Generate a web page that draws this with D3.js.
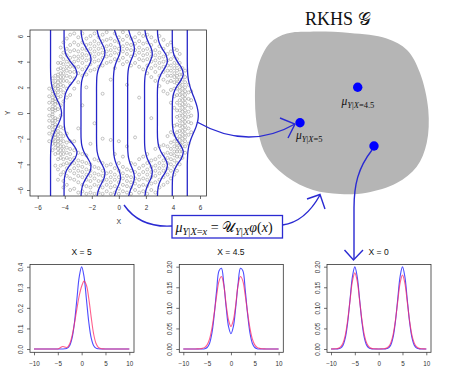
<!DOCTYPE html>
<html>
<head>
<meta charset="utf-8">
<script src="https://cdn.jsdelivr.net/npm/d3@7"></script>
<style>
  html, body { margin: 0; padding: 0; background: #fff; }
  #chart { width: 474px; height: 390px; }
</style>
</head>
<body>
<div id="chart"></div>
<script>
'use strict'

////////////////////////////////////
//////////// data //////////////////
////////////////////////////////////

// scatter: one column of Y values per X position
const scatterCols = [-5.15, -4.9, -4.7, -4.5, -4.3, -4.1, -3.85, -3.6, -3.3, -3.0, -2.7, -2.4, -2.1, -1.8, -1.5, -1.2, -0.9, -0.6, -0.3, 0,
  0.3, 0.6, 0.9, 1.2, 1.5, 1.8, 2.1, 2.4, 2.7, 3.0, 3.3, 3.6, 3.85, 4.1, 4.3, 4.5, 4.7, 4.9, 5.15, 5.35]
const scatterYs = [
  "-2.2 -1.6 -1.1 -0.6 -0.2 0.3 0.8 1.3 1.9",
  "-2.9 -2.4 -2.1 -1.8 -1.5 -1.3 -1.0 -0.8 -0.6 -0.3 -0.1 0.1 0.3 0.5 0.8 1.0 1.2 1.5 1.7 2.0 2.3 2.7",
  "-4.1 -3.2 -2.7 -2.4 -2.2 -1.9 -1.7 -1.4 -1.1 -0.9 -0.6 -0.4 0.2 0.4 0.7 0.9 1.1 1.4 1.6 1.9 2.2 2.5 2.9",
  "-5.2 -4.4 -3.6 -3.1 -2.8 -2.5 -2.2 -2.0 -1.7 -1.4 -1.0 -0.5 0.3 0.8 1.2 1.6 1.9 2.1 2.4 2.7 3.0 3.4 3.9",
  "-4.8 -4.1 -3.5 -3.2 -2.9 -2.6 -2.3 -2.0 -1.6 -1.1 -0.2 0.6 1.3 1.8 2.2 2.5 2.8 3.1 3.5 3.9 4.4 5.1",
  "-5.8 -5.3 -4.6 -4.0 -3.6 -3.2 -2.9 -2.6 -2.2 -1.8 -1.2 0.9 1.6 2.1 2.5 2.8 3.1 3.4 3.8 4.2 4.7 5.5",
  "-5.6 -4.9 -4.3 -3.9 -3.5 -3.1 -2.7 -2.3 -1.6 1.2 1.9 2.5 2.9 3.3 3.6 4.0 4.5 5.0 5.8",
  "-6.0 -5.1 -4.5 -4.0 -3.6 -3.2 -2.8 -2.2 1.4 2.3 2.8 3.2 3.6 3.9 4.3 4.8 5.3 6.1",
  "-5.9 -5.2 -4.7 -4.3 -3.9 -3.5 -2.9 -2.2 1.9 2.7 3.2 3.6 4.0 4.4 4.9 5.5 6.2",
  "-6.2 -5.4 -4.9 -4.5 -4.1 -3.7 -3.1 -1.2 2.4 3.1 3.6 4.1 4.4 4.8 5.3 5.9",
  "-6.1 -5.6 -5.0 -4.6 -4.2 -3.8 -3.2 0.6 2.9 3.4 3.9 4.3 4.6 5.0 5.5 6.2",
  "-6.3 -5.7 -5.2 -4.8 -4.4 -3.9 -3.3 2.0 3.0 3.6 4.1 4.5 4.9 5.3 5.8",
  "-6.2 -5.8 -5.3 -4.9 -4.5 -4.0 -2.4 3.3 3.8 4.2 4.6 5.0 5.4 6.0",
  "-6.3 -5.6 -5.1 -4.7 -4.2 -3.6 -0.8 3.4 4.0 4.4 4.8 5.2 5.6 6.2",
  "-6.2 -5.7 -5.3 -4.8 -4.3 -3.7 3.6 4.1 4.6 5.0 5.4 5.9",
  "-6.3 -5.8 -5.3 -4.9 -4.5 -3.9 -2.0 1.5 3.7 4.3 4.7 5.1 5.6 6.1",
  "-6.1 -5.6 -5.2 -4.7 -4.1 3.9 4.4 4.8 5.2 5.7 6.3",
  "-6.3 -5.8 -5.4 -5.0 -4.6 -4.0 -2.1 2.6 4.0 4.5 4.9 5.3 5.8",
  "-6.2 -5.7 -5.2 -4.8 -4.3 -3.2 3.5 4.2 4.7 5.1 5.6 6.2",
  "-6.3 -5.9 -5.4 -5.0 -4.5 -3.9 -2.2 4.1 4.6 5.0 5.5 5.9",
  "-6.1 -5.6 -5.1 -4.7 -4.2 -3.4 3.8 4.3 4.8 5.2 5.7 6.3",
  "-6.2 -5.7 -5.3 -4.9 -4.4 -2.6 2.2 4.0 4.6 5.0 5.4 6.0",
  "-6.3 -5.8 -5.4 -5.0 -4.5 -3.9 3.7 4.4 4.9 5.3 5.8",
  "-6.0 -5.5 -5.1 -4.6 -4.0 -1.9 3.9 4.5 4.9 5.4 5.9",
  "-6.2 -5.7 -5.2 -4.8 -4.3 -3.6 1.2 3.6 4.2 4.7 5.1 5.6 6.2",
  "-6.1 -5.6 -5.1 -4.6 -4.1 -3.4 3.4 4.1 4.5 4.9 5.4 6.0",
  "-6.3 -5.7 -5.2 -4.8 -4.4 -3.9 -3.2 3.1 3.7 4.2 4.6 5.0 5.5 6.1",
  "-6.0 -5.5 -5.0 -4.6 -4.2 -3.7 -0.4 2.8 3.5 4.0 4.4 4.8 5.3 5.9",
  "-6.2 -5.4 -4.9 -4.5 -4.1 -3.6 -2.8 2.5 3.2 3.7 4.1 4.5 4.9 5.6",
  "-5.8 -5.2 -4.7 -4.3 -3.9 -3.4 -2.6 2.1 2.9 3.5 3.9 4.3 4.7 5.2 6.0",
  "-5.6 -5.0 -4.5 -4.1 -3.7 -3.2 -2.5 1.7 2.6 3.2 3.6 4.0 4.4 5.0 5.7",
  "-5.4 -4.8 -4.3 -3.9 -3.5 -3.1 -2.6 -1.8 1.5 2.4 2.9 3.3 3.7 4.1 4.6 5.3",
  "-5.1 -4.5 -4.0 -3.6 -3.2 -2.8 -2.3 -1.5 0.8 1.8 2.5 2.9 3.3 3.7 4.2 4.8 5.5",
  "-4.8 -4.2 -3.7 -3.3 -3.0 -2.6 -2.2 -1.7 -1.0 0.4 1.3 1.9 2.4 2.8 3.1 3.5 3.9 4.4 5.0",
  "-4.5 -3.9 -3.4 -3.0 -2.7 -2.4 -2.0 -1.5 -0.9 -0.3 0.2 0.8 1.4 1.9 2.3 2.6 2.9 3.3 3.7 4.2 4.9",
  "-4.0 -3.4 -3.0 -2.7 -2.4 -2.1 -1.8 -1.4 -1.0 -0.6 -0.2 0.2 0.6 1.0 1.4 1.7 2.0 2.3 2.6 3.0 3.4 3.9 4.6",
  "-3.5 -3.0 -2.6 -2.3 -2.0 -1.7 -1.4 -1.1 -0.8 -0.5 -0.2 0.1 0.4 0.7 1.0 1.3 1.6 1.9 2.2 2.6 3.0 3.5",
  "-3.1 -2.6 -2.2 -1.9 -1.6 -1.3 -1.0 -0.7 -0.4 -0.1 0.2 0.5 0.8 1.1 1.4 1.7 2.0 2.4 2.8 3.3",
  "-2.4 -1.7 -1.2 -0.7 -0.3 0.1 0.6 1.1 1.6 2.2",
  "-1.5 -0.8 -0.2 0.4 1.0 1.7"
]

// conditional densities drawn inside the scatter, one baseline X each
const curveBase = [-5.05, -4.05, -2.8, -1.65, -0.4, 0.65, 1.9, 2.85, 3.95, 5.06]
const curveGrid = [-6.5, -6, -5.5, -5, -4.5, -4, -3.5, -3, -2.5, -2, -1.5, -1, -0.5, 0, 0.5, 1, 1.5, 2, 2.5, 3, 3.5, 4, 4.5, 5, 5.5, 6, 6.5]
const curveVals = [
  [0, 0, 0, 0, 0, 0, 0, .002, .008, .025, .06, .105, .15, .17, .15, .105, .06, .025, .008, .002, 0, 0, 0, 0, 0, 0, 0],
  [0, 0, .001, .008, .035, .097, .173, .198, .145, .068, .021, .004, .001, 0, .001, .004, .021, .068, .145, .198, .173, .097, .035, .008, .001, 0, 0],
  [.001, .009, .035, .088, .143, .15, .1, .043, .012, .002, 0, 0, 0, 0, 0, 0, 0, .002, .012, .043, .1, .15, .143, .088, .035, .009, .001],
  [.008, .03, .076, .121, .125, .082, .035, .009, .002, 0, 0, 0, 0, 0, 0, 0, 0, 0, .002, .009, .035, .082, .125, .121, .076, .03, .008],
  [.015, .045, .088, .11, .088, .045, .015, .003, 0, 0, 0, 0, 0, 0, 0, 0, 0, 0, 0, .003, .015, .045, .088, .11, .088, .045, .015],
  [.014, .043, .084, .105, .084, .043, .014, .003, 0, 0, 0, 0, 0, 0, 0, 0, 0, 0, 0, .003, .014, .043, .084, .105, .084, .043, .014],
  [.005, .022, .06, .106, .118, .085, .039, .012, .002, 0, 0, 0, 0, 0, 0, 0, 0, 0, .002, .012, .039, .085, .118, .106, .06, .022, .005],
  [.001, .006, .027, .075, .134, .154, .113, .053, .016, .003, 0, 0, 0, 0, 0, 0, 0, .003, .016, .053, .113, .154, .134, .075, .027, .006, .001],
  [0, 0, .001, .006, .028, .079, .144, .169, .127, .061, .019, .004, .0005, 0, .0005, .004, .019, .061, .127, .169, .144, .079, .028, .006, .001, 0, 0],
  [0, 0, 0, 0, 0, 0, .003, .01, .027, .058, .1, .14, .165, .168, .15, .118, .08, .045, .02, .007, .002, 0, 0, 0, 0, 0, 0]
]
const scatterTicks = [-6, -4, -2, 0, 2, 4, 6]

// bottom panels: true (blue) and estimated (red) densities
const panelTitles = ["X = 5", "X = 4.5", "X = 0"]
const panelYMax = [0.4, 0.2, 0.2]
const panelYTicks = [[0, 0.1, 0.2, 0.3, 0.4], [0, 0.05, 0.1, 0.15, 0.2], [0, 0.05, 0.1, 0.15, 0.2]]
const panelYLabels = [["0.0", "0.1", "0.2", "0.3", "0.4"], ["0.00", "0.05", "0.10", "0.15", "0.20"], ["0.00", "0.05", "0.10", "0.15", "0.20"]]
const panelXTicks = [-10, -5, 0, 5, 10]
const densX = [-10, -9.5, -9, -8.5, -8, -7.5, -7, -6.5, -6, -5.5, -5, -4.5, -4, -3.5, -3, -2.5, -2, -1.5, -1, -0.5, 0,
  0.5, 1, 1.5, 2, 2.5, 3, 3.5, 4, 4.5, 5, 5.5, 6, 6.5, 7, 7.5, 8, 8.5, 9, 9.5, 10]
const blueDens = [
  [0, 0, 0, 0, 0, 0, 0, 0, 0, 0, 0, 0, 0, .0009, .0044, .0175, .054, .13, .242, .352, .399, .352, .242, .13, .054, .0175, .0044, .0009, 0, 0, 0, 0, 0, 0, 0, 0, 0, 0, 0, 0, 0],
  [0, 0, 0, 0, 0, 0, 0, 0, .0001, .0008, .0037, .0135, .038, .084, .143, .19, .196, .159, .101, .054, .037, .054, .101, .159, .196, .19, .143, .084, .038, .0135, .0037, .0008, .0001, 0, 0, 0, 0, 0, 0, 0, 0],
  [0, 0, .0001, .0004, .0022, .0088, .027, .0648, .121, .176, .1995, .176, .121, .0648, .027, .0088, .0022, .0004, .0001, 0, 0, 0, .0001, .0004, .0022, .0088, .027, .0648, .121, .176, .1995, .176, .121, .0648, .027, .0088, .0022, .0004, .0001, 0, 0]
]
const redDens = [
  [0, 0, 0, 0, 0, 0, 0, 0, 0, 0, 0, .006, .012, .009, .008, .025, .065, .125, .195, .26, .305, .33, .31, .245, .155, .075, .028, .008, .002, .0005, 0, 0, 0, 0, 0, 0, 0, 0, 0, 0, 0],
  [0, 0, 0, 0, 0, 0, .0002, .0005, .0015, .004, .01, .024, .05, .088, .13, .165, .176, .155, .107, .07, .055, .07, .107, .155, .176, .165, .13, .088, .05, .024, .01, .004, .0015, .0005, .0002, 0, 0, 0, 0, 0, 0],
  [.0001, .0002, .0005, .0015, .005, .014, .034, .07, .118, .165, .185, .165, .118, .07, .034, .014, .005, .0015, .0005, .0002, .0001, .0002, .0005, .0015, .005, .0135, .033, .068, .115, .16, .18, .16, .115, .068, .033, .0135, .005, .0015, .0005, .0002, .0001]
]

////////////////////////////////////
//////////// svg setup /////////////
////////////////////////////////////

const svgWidth = 474
const svgHeight = 390
const sans = "'Liberation Sans', Arial, sans-serif"
const serif = "'Liberation Serif', 'DejaVu Serif', serif"
const axisCol = '#333'
const curveBlue = '#2626c8'
const arrowBlue = '#2a2ad2'

const svg = d3.select('#chart')
  .append('svg')
  .attr('width', svgWidth)
  .attr('height', svgHeight)
  .attr('viewBox', `0 0 ${svgWidth} ${svgHeight}`)

////////////////////////////////////
//////////// scatter panel /////////
////////////////////////////////////

const box = { left: 30, right: 206.5, top: 30, bottom: 196 }
const sx = d3.scaleLinear().domain([-6, 6]).range([37.7, 200])
const sy = d3.scaleLinear().domain([-6, 6]).range([190, 36])
const bulge = d3.scaleLinear().domain([0, 0.2]).range([0, 13])

svg.append('clipPath').attr('id', 'scatterClip')
  .append('rect')
  .attr('x', box.left).attr('y', box.top)
  .attr('width', box.right - box.left).attr('height', box.bottom - box.top)

const points = scatterCols.flatMap((x, i) => scatterYs[i].split(' ').map(v => ({ x: x, y: +v })))

svg.append('g')
  .attr('clip-path', 'url(#scatterClip)')
  .selectAll('circle')
  .data(points)
  .join('circle')
  .attr('cx', d => sx(d.x))
  .attr('cy', d => sy(d.y))
  .attr('r', 1.5)
  .attr('fill', 'none')
  .attr('stroke', '#9c9c9c')
  .attr('stroke-width', 0.6)

const curveLine = d3.line().curve(d3.curveCatmullRom)

svg.append('g')
  .attr('clip-path', 'url(#scatterClip)')
  .selectAll('path')
  .data(curveVals)
  .join('path')
  .attr('d', (vals, k) => curveLine(vals.map((v, i) => [sx(curveBase[k]) + bulge(v), sy(curveGrid[i])])))
  .attr('fill', 'none')
  .attr('stroke', curveBlue)
  .attr('stroke-width', 1.3)

svg.append('rect')
  .attr('x', box.left).attr('y', box.top)
  .attr('width', box.right - box.left).attr('height', box.bottom - box.top)
  .attr('fill', 'none')
  .attr('stroke', axisCol)
  .attr('stroke-width', 0.8)

// axes
const xAxis = svg.append('g')
  .attr('transform', `translate(0,${box.bottom})`)
  .call(d3.axisBottom(sx).tickValues(scatterTicks).tickSize(3).tickFormat(d3.format('d')))
styleAxis(xAxis, 'bottom', 14)

const yAxis = svg.append('g')
  .attr('transform', `translate(${box.left},0)`)
  .call(d3.axisLeft(sy).tickValues(scatterTicks).tickSize(3).tickFormat(d3.format('d')))
styleAxis(yAxis, 'left', 7.5)

svg.append('text')
  .attr('x', sx(0)).attr('y', 224)
  .attr('text-anchor', 'middle')
  .style('font-family', sans).style('font-size', '7px').attr('fill', axisCol)
  .text('X')

svg.append('text')
  .attr('transform', `translate(9.5,${sy(0)}) rotate(-90)`)
  .attr('text-anchor', 'middle')
  .style('font-family', sans).style('font-size', '7px').attr('fill', axisCol)
  .text('Y')

function styleAxis(g, side, offset) {
  g.select('.domain').remove()
  g.selectAll('.tick line').attr('stroke', axisCol).attr('stroke-width', 0.7)
  const t = g.selectAll('.tick text')
    .style('font-family', sans)
    .style('font-size', '6.3px')
    .attr('fill', axisCol)
  if (side === 'bottom') {
    t.attr('y', offset).attr('dy', 0)
  } else {
    t.attr('transform', 'rotate(-90)')
      .attr('x', 0).attr('y', -offset).attr('dy', 0)
      .style('text-anchor', 'middle')
  }
}

////////////////////////////////////
//////////// RKHS blob /////////////
////////////////////////////////////

const blobPts = [[310, 31.7], [350, 33], [386.7, 38.5], [407, 50], [420, 73], [428.3, 110], [426.7, 143], [416.7, 166.7],
  [396.7, 183], [366.7, 192.7], [340, 194], [313, 190], [286.7, 176.7], [267, 156.7], [258.3, 133], [255, 100],
  [258, 66.7], [270, 43], [287, 33.5]]

svg.append('path')
  .attr('d', d3.line().curve(d3.curveCatmullRomClosed)(blobPts))
  .attr('fill', '#b5b5b5')

svg.append('text')
  .attr('x', 305).attr('y', 25)
  .style('font-family', serif).style('font-size', '18px').attr('fill', '#111')
  .text('RKHS \u{1D4A2}')

const dots = [[357.7, 87.3], [300, 122.7], [374, 146]]
svg.selectAll('.dot')
  .data(dots)
  .join('circle')
  .attr('class', 'dot')
  .attr('cx', d => d[0]).attr('cy', d => d[1])
  .attr('r', 4.7)
  .attr('fill', '#0000ff')

mathText(341.5, 105, 11.5, [['\u03BC', 'i'], ['Y', 'si'], ['|', 's'], ['X', 'si'], ['=4.5', 's']])
mathText(296, 139, 11.5, [['\u03BC', 'i'], ['Y', 'si'], ['|', 's'], ['X', 'si'], ['=5', 's']])

// builds a text with italic / subscript pieces
function mathText(x, y, size, parts) {
  const t = svg.append('text')
    .attr('x', x).attr('y', y)
    .style('font-family', serif).style('font-size', size + 'px').attr('fill', '#111')
  let low = false
  parts.forEach(([str, f]) => {
    const sub = f.includes('s')
    const ts = t.append('tspan').text(str)
      .style('font-style', f.includes('i') ? 'italic' : 'normal')
      .style('font-size', (sub ? size * 0.74 : size) + 'px')
    if (sub && !low) { ts.attr('dy', size * 0.26); low = true }
    if (!sub && low) { ts.attr('dy', -size * 0.26); low = false }
  })
  return t
}

////////////////////////////////////
//////////// arrows ////////////////
////////////////////////////////////

function arrow(d, head) {
  svg.append('path')
    .attr('d', d)
    .attr('fill', 'none')
    .attr('stroke', arrowBlue)
    .attr('stroke-width', 1.4)
  if (head) {
    svg.append('path')
      .attr('d', d3.line()(head))
      .attr('fill', 'none')
      .attr('stroke', arrowBlue)
      .attr('stroke-width', 1.4)
  }
}

arrow('M197,122 Q248,151 295,124', [[280, 118], [295, 124], [288, 138]])
arrow('M124,205 Q140,228 172,226', null)
arrow('M282.5,225 Q305,222 320,195', [[307, 199], [320, 194.5], [325, 209]])
arrow('M372,150 C358,168 354,185 354,208 L354,259', [[344.5, 250], [353.5, 260], [363, 250]])

// formula box
svg.append('rect')
  .attr('x', 172).attr('y', 215.5)
  .attr('width', 110.5).attr('height', 22.5)
  .attr('fill', '#fff')
  .attr('stroke', arrowBlue)
  .attr('stroke-width', 1.3)

mathText(175.5, 231.5, 14, [['\u03BC', 'i'], ['Y', 'si'], ['|', 's'], ['X', 'si'], ['=', 's'], ['x', 'si'],
  [' = ', ''], ['\u{1D4B0}', ''], ['Y', 'si'], ['|', 's'], ['X', 'si'], ['\u03C6', 'i'], ['(', ''], ['x', 'i'], [')', '']])

////////////////////////////////////
//////////// bottom panels /////////
////////////////////////////////////

const panelLeft = [30, 179.3, 327]
const pTop = 264.5
const pBottom = 352.3

panelTitles.forEach((title, k) => {
  const left = panelLeft[k]
  const px = d3.scaleLinear().domain([-10, 10]).range([left + 4, left + 99.3])
  const py = d3.scaleLinear().domain([0, panelYMax[k]]).range([349, 266.7])
  const g = svg.append('g')

  const line = d3.line()
    .x((d, i) => px(densX[i]))
    .y(d => py(d))
    .curve(d3.curveCatmullRom)

  g.append('path')
    .attr('d', line(blueDens[k]))
    .attr('fill', 'none')
    .attr('stroke', '#3a3aff')
    .attr('stroke-opacity', 0.9)
    .attr('stroke-width', 1.1)

  g.append('path')
    .attr('d', line(redDens[k]))
    .attr('fill', 'none')
    .attr('stroke', '#ff2a66')
    .attr('stroke-opacity', 0.75)
    .attr('stroke-width', 1.1)

  g.append('rect')
    .attr('x', left).attr('y', pTop)
    .attr('width', 104).attr('height', pBottom - pTop)
    .attr('fill', 'none')
    .attr('stroke', axisCol)
    .attr('stroke-width', 0.8)

  const ax = g.append('g')
    .attr('transform', `translate(0,${pBottom})`)
    .call(d3.axisBottom(px).tickValues(panelXTicks).tickSize(3).tickFormat(d3.format('d')))
  styleAxis(ax, 'bottom', 13.5)

  const ay = g.append('g')
    .attr('transform', `translate(${left},0)`)
    .call(d3.axisLeft(py).tickValues(panelYTicks[k]).tickSize(3).tickFormat((d, i) => panelYLabels[k][i]))
  styleAxis(ay, 'left', 7.5)

  g.append('text')
    .attr('x', px(0)).attr('y', 255)
    .attr('text-anchor', 'middle')
    .style('font-family', sans).style('font-size', '8.5px').attr('fill', '#111')
    .text(title)
})
</script>
</body>
</html>
